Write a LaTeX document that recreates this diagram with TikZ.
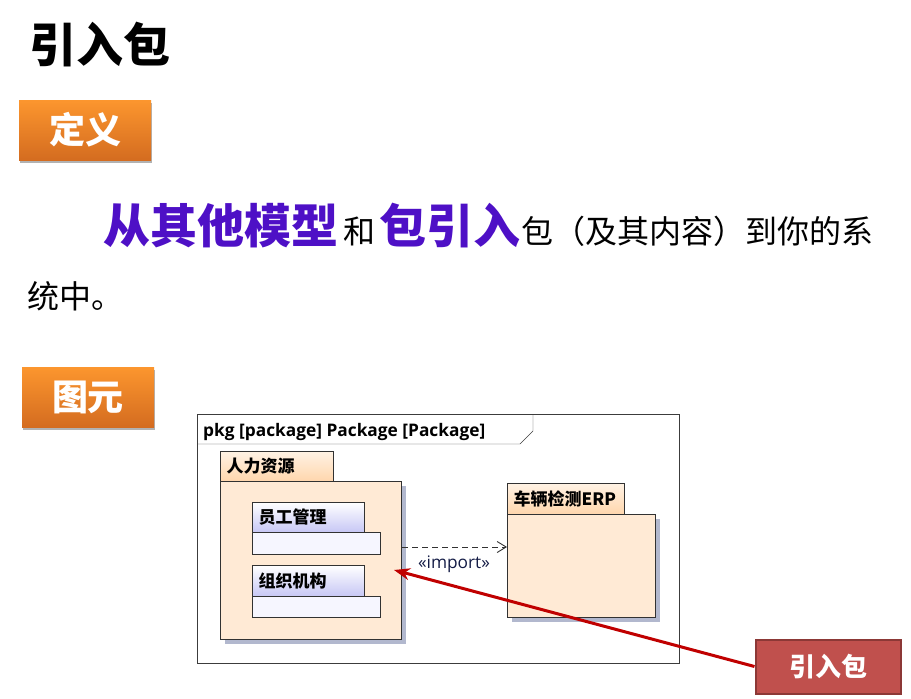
\documentclass[tikz,border=0pt]{standalone}
\usepackage{fontspec}
\newfontfamily\cjk{Noto Sans CJK SC}
\newfontfamily\lat{Open Sans}
\usetikzlibrary{arrows.meta,shadows}
\definecolor{orgtop}{RGB}{252,150,46}
\definecolor{orgbot}{RGB}{212,108,32}
\definecolor{purp}{RGB}{78,16,198}
\definecolor{pkgfill}{RGB}{255,234,213}
\definecolor{tabtop}{RGB}{255,242,228}
\definecolor{tabbot}{RGB}{255,214,172}
\definecolor{subtop}{RGB}{255,255,255}
\definecolor{subbot}{RGB}{198,198,245}
\definecolor{subfill}{RGB}{246,246,255}
\definecolor{shadowc}{RGB}{178,184,206}
\definecolor{pkgline}{RGB}{50,50,50}
\definecolor{frm}{RGB}{60,60,60}
\definecolor{dashc}{RGB}{50,50,50}
\definecolor{imptext}{RGB}{20,28,70}
\definecolor{redarr}{RGB}{192,0,0}
\definecolor{redfill}{RGB}{192,80,77}
\definecolor{redline}{RGB}{140,56,54}
\tikzset{
  obtn/.style={top color=orgtop, bottom color=orgbot, draw=none, minimum width=132, minimum height=60,
    inner sep=0, text=white, font=\cjk\bfseries\fontsize{36}{40}\selectfont,
    drop shadow={shadow xshift=1pt, shadow yshift=-3pt, opacity=0.3, fill=black}},
  ptab/.style={draw=pkgline, line width=1.1pt, top color=tabtop, bottom color=tabbot, anchor=north west,
    inner xsep=6, inner ysep=0, align=left, font=\cjk\bfseries\fontsize{17}{20}\selectfont},
  stab/.style={ptab, top color=subtop, bottom color=subbot},
  pbody/.style={draw=pkgline, line width=1.1pt, fill=pkgfill, anchor=north west, inner sep=0,
    drop shadow={shadow xshift=4pt, shadow yshift=-4pt, fill=shadowc, opacity=1}},
  sbody/.style={draw=pkgline, line width=1.1pt, fill=subfill, anchor=north west, inner sep=0},
}
\begin{document}
\begin{tikzpicture}[x=1pt,y=-1pt]
\useasboundingbox (0,0) rectangle (911,699);
% title
\node[anchor=base west, inner sep=0] (title) at (29,62) {\cjk\bfseries\fontsize{47}{50}\selectfont 引入包};
% buttons
\node[obtn] (def) at (85,130) {定义};
\node[obtn] (tuy) at (88,397) {图元};
% definition text
\node[anchor=base west, inner sep=0] (line1) at (103,243) {\cjk\fontsize{32}{36}\selectfont{\bfseries\color{purp}\fontsize{47}{50}\selectfont 从其他模型}\hspace{5pt}和\hspace{4pt}{\bfseries\color{purp}\fontsize{47}{50}\selectfont 包引入}\hspace{1pt}包（及其内容）到你的系};
\node[anchor=base west, inner sep=0] (line2) at (27,308) {\cjk\fontsize{32}{36}\selectfont 统中。};
% frame
\node[draw=frm, minimum width=482, minimum height=249, anchor=north west, inner sep=0] (frame) at (197,414) {};
\draw[frm] (frame.north west) ++(0,30) -- ++(323,0) -- ++(13,-13) -- ++(0,-17);
\node[anchor=base west, inner sep=0, font=\lat\bfseries\fontsize{17.3}{20}\selectfont] (hdr) at (203,436.5) {pkg [package] Package [Package]};
% package 人力资源
\node[ptab, minimum height=30, text width=101] (t1) at (220,451) {人力资源};
\node[pbody, minimum width=181, minimum height=158] (b1) at (220,481) {};
\node[stab, minimum height=30, text width=100] (t2) at (252,502) {员工管理};
\node[sbody, minimum width=128, minimum height=22] (b2) at (252,532) {};
\node[stab, minimum height=31, text width=100] (t3) at (252,565) {组织机构};
\node[sbody, minimum width=128, minimum height=21] (b3) at (252,596) {};
% package 车辆检测ERP
\node[ptab, minimum height=31, text width=105] (t4) at (507,483) {车辆检测ERP};
\node[pbody, minimum width=148, minimum height=103] (b4) at (507,514) {};
% import dependency
\coordinate (imp) at (0,547);
\draw[dashc, line width=0.9pt, dash pattern=on 6pt off 4pt, -{Straight Barb[length=9pt,width=11pt]}] (b1.east |- imp) -- (b4.west |- imp);
\node[inner sep=0, font=\lat\fontsize{17.3}{20}\selectfont, text=imptext] (implbl) at (454,564) {«import»};
% callout
\node[fill=redfill, draw=redline, line width=2pt, minimum width=145, minimum height=54, text=white,
  font=\cjk\bfseries\fontsize{26}{30}\selectfont] (yrb) at (828,666.5) {引入包};
\coordinate (tip) at (394,570);
\draw[redarr, line width=3pt, -{Stealth[length=16pt,width=12pt]}] (yrb.west) -- (tip);
\end{tikzpicture}
\end{document}
